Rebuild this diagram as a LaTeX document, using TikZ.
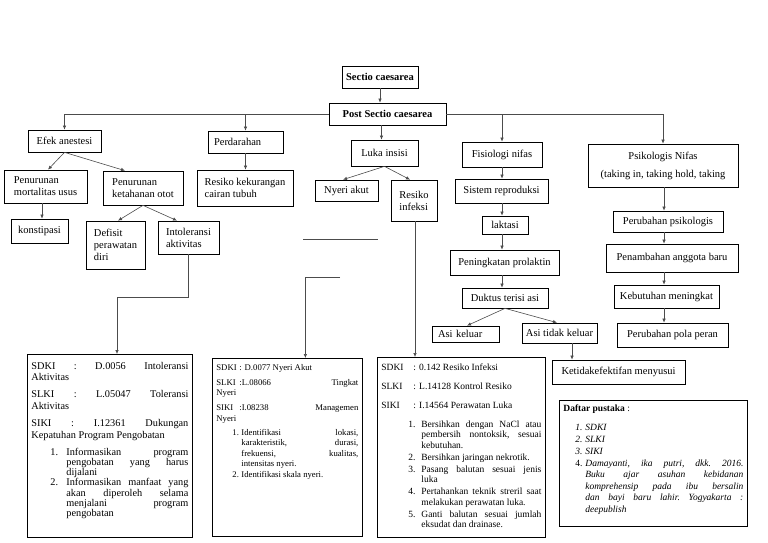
\documentclass[tikz,border=0pt]{standalone}
\usepackage{fontspec}
\setmainfont{Liberation Serif}
\usetikzlibrary{arrows.meta}
\newlength{\igap}
\newcommand{\litem}[4]{\par\hangindent=\dimexpr#1+#2\relax\hangafter=1\noindent\hspace*{#1}\makebox[#2][l]{#3}#4\par\vspace{\igap}}
\begin{document}
\begin{tikzpicture}[x=1pt,y=-1pt,
  box/.style={draw=black, line width=0.7pt, inner sep=2pt, align=left, font=\fontsize{10.5}{12}\selectfont},
  arr/.style={draw=black!70, line width=0.6pt, -{Latex[length=4pt,width=3.5pt]}},
  ln/.style={draw=black!70, line width=0.6pt},
  big/.style={draw=black, line width=0.8pt, inner sep=4pt, anchor=north west}]
\useasboundingbox (0,0) rectangle (768,543);

% top
\node[box, minimum width=76pt, minimum height=22pt] (sc) at (380,77) {\textbf{Sectio caesarea}};
\node[box, minimum width=117pt, minimum height=22pt] (psc) at (387.5,114) {\textbf{Post Sectio caesarea}};

% left branch
\node[box, minimum width=73pt, minimum height=22pt] (ef) at (64.5,141) {Efek anestesi};
\node[box, minimum width=83pt, minimum height=33pt] (pm) at (45.5,186.5) {Penurunan\\mortalitas usus};
\node[box, minimum width=80pt, minimum height=34pt] (pk) at (143,188) {Penurunan\\ketahanan otot};
\node[box, minimum width=57pt, minimum height=24pt] (ko) at (39.5,231) {konstipasi};
\node[box, minimum width=59pt, minimum height=48pt] (dp) at (115.5,245) {Defisit\\perawatan\\diri};
\node[box, minimum width=61pt, minimum height=33pt] (ia) at (188.5,237.5) {Intoleransi\\aktivitas};

% perdarahan
\node[box, minimum width=75pt, minimum height=22pt, text width=63pt, inner xsep=6pt] (pd) at (245.5,142) {Perdarahan};
\node[box, minimum width=96pt, minimum height=36pt] (rk) at (245,188) {Resiko kekurangan\\cairan tubuh};

% luka
\node[box, minimum width=67pt, minimum height=26pt] (li) at (384.5,153) {Luka insisi};
\node[box, minimum width=63pt, minimum height=21pt] (na) at (346.5,190.5) {Nyeri akut};
\node[box, minimum width=46pt, minimum height=41pt] (ri) at (414,200.5) {Resiko\\infeksi};

% fisiologi
\node[box, minimum width=80pt, minimum height=25pt] (fn) at (502,154.5) {Fisiologi nifas};
\node[box, minimum width=93pt, minimum height=24pt] (sr) at (501.5,191) {Sistem reproduksi};
\node[box, minimum width=46pt, minimum height=18pt] (lk) at (505,225) {laktasi};
\node[box, minimum width=109pt, minimum height=25pt] (pp) at (504.5,262.5) {Peningkatan prolaktin};
\node[box, minimum width=86pt, minimum height=20pt] (dt) at (505,298) {Duktus terisi asi};
\node[box, minimum width=67pt, minimum height=16pt, text width=55pt, inner xsep=6pt] (ak) at (465.5,334) {Asi keluar};
\node[box, minimum width=75pt, minimum height=20pt] (atk) at (559.5,333) {Asi tidak keluar};
\node[box, minimum width=133pt, minimum height=24pt] (km) at (618.5,372) {Ketidakefektifan menyusui};

% psikologis
\node[box, align=center, minimum width=150pt, minimum height=43pt] (ps) at (663,165.5) {Psikologis Nifas\\[6pt](taking in, taking hold, taking};
\node[box, minimum width=110pt, minimum height=21pt] (pps) at (668,221.5) {Perubahan psikologis};
\node[box, minimum width=132pt, minimum height=28pt] (pab) at (672,258) {Penambahan anggota baru};
\node[box, minimum width=105pt, minimum height=23pt] (kb) at (666.5,296.5) {Kebutuhan meningkat};
\node[box, minimum width=111pt, minimum height=24pt] (ppr) at (672.5,335) {Perubahan pola peran};

% big boxes
\node[big] (s1) at (27,354) {\parbox[c][175pt][t]{157pt}{\fontsize{10.3}{11.5}\selectfont
\vspace*{3.5pt}
SDKI\hfill:\hfill D.0056\hfill Intoleransi\\
Aktivitas\par\vspace{5.5pt}
SLKI\hfill:\hfill L.05047\hfill Toleransi\\
Aktivitas\par\vspace{6pt}
SIKI\hfill:\hfill I.12361\hfill Dukungan\\
Kepatuhan Program Pengobatan\par\vspace{7pt}
\fontsize{10.3}{10.2}\selectfont\setlength{\igap}{0pt}
\litem{19pt}{16pt}{1.}{Informasikan\hfill program\\pengobatan\hfill yang\hfill harus\\dijalani}
\litem{19pt}{16pt}{2.}{Informasikan\hfill manfaat\hfill yang\\akan\hfill diperoleh\hfill selama\\menjalani\hfill program\\pengobatan}}};

\node[big] (s2) at (212,358) {\parbox[c][170pt][t]{142pt}{\fontsize{8.7}{10.5}\selectfont
\vspace*{2pt}
\makebox[23pt][l]{SDKI}: D.0077 Nyeri Akut\par\vspace{4.5pt}
\makebox[23pt][l]{SLKI}:L.08066\hfill Tingkat\\
Nyeri\par\vspace{4.5pt}
\makebox[23pt][l]{SIKI}:I.08238\hfill Managemen\\
Nyeri\par\vspace{3.5pt}
\setlength{\igap}{0.5pt}
\litem{16pt}{9pt}{1.}{Identifikasi\hfill lokasi,\\karakteristik,\hfill durasi,\\frekuensi,\hfill kualitas,\\intensitas nyeri.}
\litem{16pt}{9pt}{2.}{Identifikasi skala nyeri.}}};

\node[big] (s3) at (377,357) {\parbox[c][172pt][t]{160pt}{\fontsize{9.5}{10.5}\selectfont
\vspace*{2pt}
\makebox[32pt][l]{SDKI}: 0.142 Resiko Infeksi\par\vspace{8.5pt}
\makebox[32pt][l]{SLKI}: L.14128 Kontrol Resiko\par\vspace{8.5pt}
\makebox[32pt][l]{SIKI}: I.14564 Perawatan Luka\par\vspace{8.5pt}
\setlength{\igap}{1.5pt}
\litem{27pt}{13pt}{1.}{Bersihkan\hfill dengan\hfill NaCl\hfill atau\\pembersih\hfill nontoksik,\hfill sesuai\\kebutuhan.}
\litem{27pt}{13pt}{2.}{Bersihkan jaringan nekrotik.}
\litem{27pt}{13pt}{3.}{Pasang\hfill balutan\hfill sesuai\hfill jenis\\luka}
\litem{27pt}{13pt}{4.}{Pertahankan\hfill teknik\hfill streril\hfill saat\\melakukan perawatan luka.}
\litem{27pt}{13pt}{5.}{Ganti\hfill balutan\hfill sesuai\hfill jumlah\\eksudat dan drainase.}}};

\node[big] (dfp) at (559,400) {\parbox[c][118pt][t]{180pt}{\fontsize{9.5}{11.5}\selectfont
\textbf{Daftar pustaka} :\par\vspace{7.5pt}
\setlength{\igap}{0.5pt}
\litem{12pt}{10pt}{\textit{1.}}{\textit{SDKI}}
\litem{12pt}{10pt}{\textit{2.}}{\textit{SLKI}}
\litem{12pt}{10pt}{\textit{3.}}{\textit{SIKI}}
\litem{12pt}{10pt}{4.}{{\itshape Damayanti,\hfill ika\hfill putri,\hfill dkk.\hfill 2016.\\Buku\hfill ajar\hfill asuhan\hfill kebidanan\\komprehensip\hfill pada\hfill ibu\hfill bersalin\\dan\hfill bayi\hfill baru\hfill lahir.\hfill Yogyakarta\hfill :\\deepublish}}}};

% connectors
\draw[arr] (sc.south) -- (sc.south |- psc.north);
\draw[arr] (psc.west) -| (ef.north);
\draw[arr] (pd.north |- psc.west) -- (pd.north);
\draw[arr] (psc.east) -| (ps.north);
\draw[arr] (fn.north |- psc.east) -- (fn.north);
\draw[arr] ([xshift=-3pt]li.north |- psc.south) -- ([xshift=-3pt]li.north);

\draw[arr] (ef.south) -- ([xshift=2.5pt]pm.north);
\draw[arr] (ef.south) -- ([xshift=-18pt]pk.north);
\draw[arr] (pd.south) -- (pd.south |- rk.north);
\draw[arr] ([xshift=2.5pt]ko.north |- pm.south) -- ([xshift=2.5pt]ko.north);
\draw[arr] (pk.south) -- ([xshift=2.5pt]dp.north);
\draw[arr] (pk.south) -- ([xshift=-11.5pt]ia.north);
\coordinate (k1) at (117,297);
\draw[arr] (ia.south) |- (k1) -- (k1 |- s1.north);

\draw[arr] (li.south) -- ([xshift=-3.5pt]na.north);
\draw[arr] (li.south) -- ([xshift=-4pt]ri.north);
\coordinate (fa) at (303,239);
\coordinate (fb) at (378,239);
\draw[ln] (fa) -- (fb);
\coordinate (k2) at (340,277);
\draw[arr] (k2) -| ([xshift=18pt]s2.north);
\draw[arr] ([xshift=1pt]ri.south) -- ([xshift=1pt]ri.south |- s3.north);

\coordinate (fx) at (502,0);
\draw[arr] (fn.south) -- (fn.south |- sr.north);
\draw[arr] (sr.south -| fx) -- (lk.north -| fx);
\draw[arr] (lk.south -| fx) -- (pp.north -| fx);
\draw[arr] (pp.south -| fx) -- (dt.north -| fx);
\draw[arr] (dt.south) -- ([xshift=1.5pt]ak.north);
\draw[arr] (dt.south) -- ([xshift=-2.5pt]atk.north);
\draw[arr] ([xshift=12.5pt]atk.south) -- ([xshift=12.5pt]atk.south |- km.north);

\coordinate (px) at (664,0);
\draw[arr] (ps.south -| px) -- (pps.north -| px);
\draw[arr] (pps.south -| px) -- (pab.north -| px);
\draw[arr] (pab.south -| px) -- (kb.north -| px);
\draw[arr] (kb.south -| px) -- (ppr.north -| px);
\end{tikzpicture}
\end{document}
